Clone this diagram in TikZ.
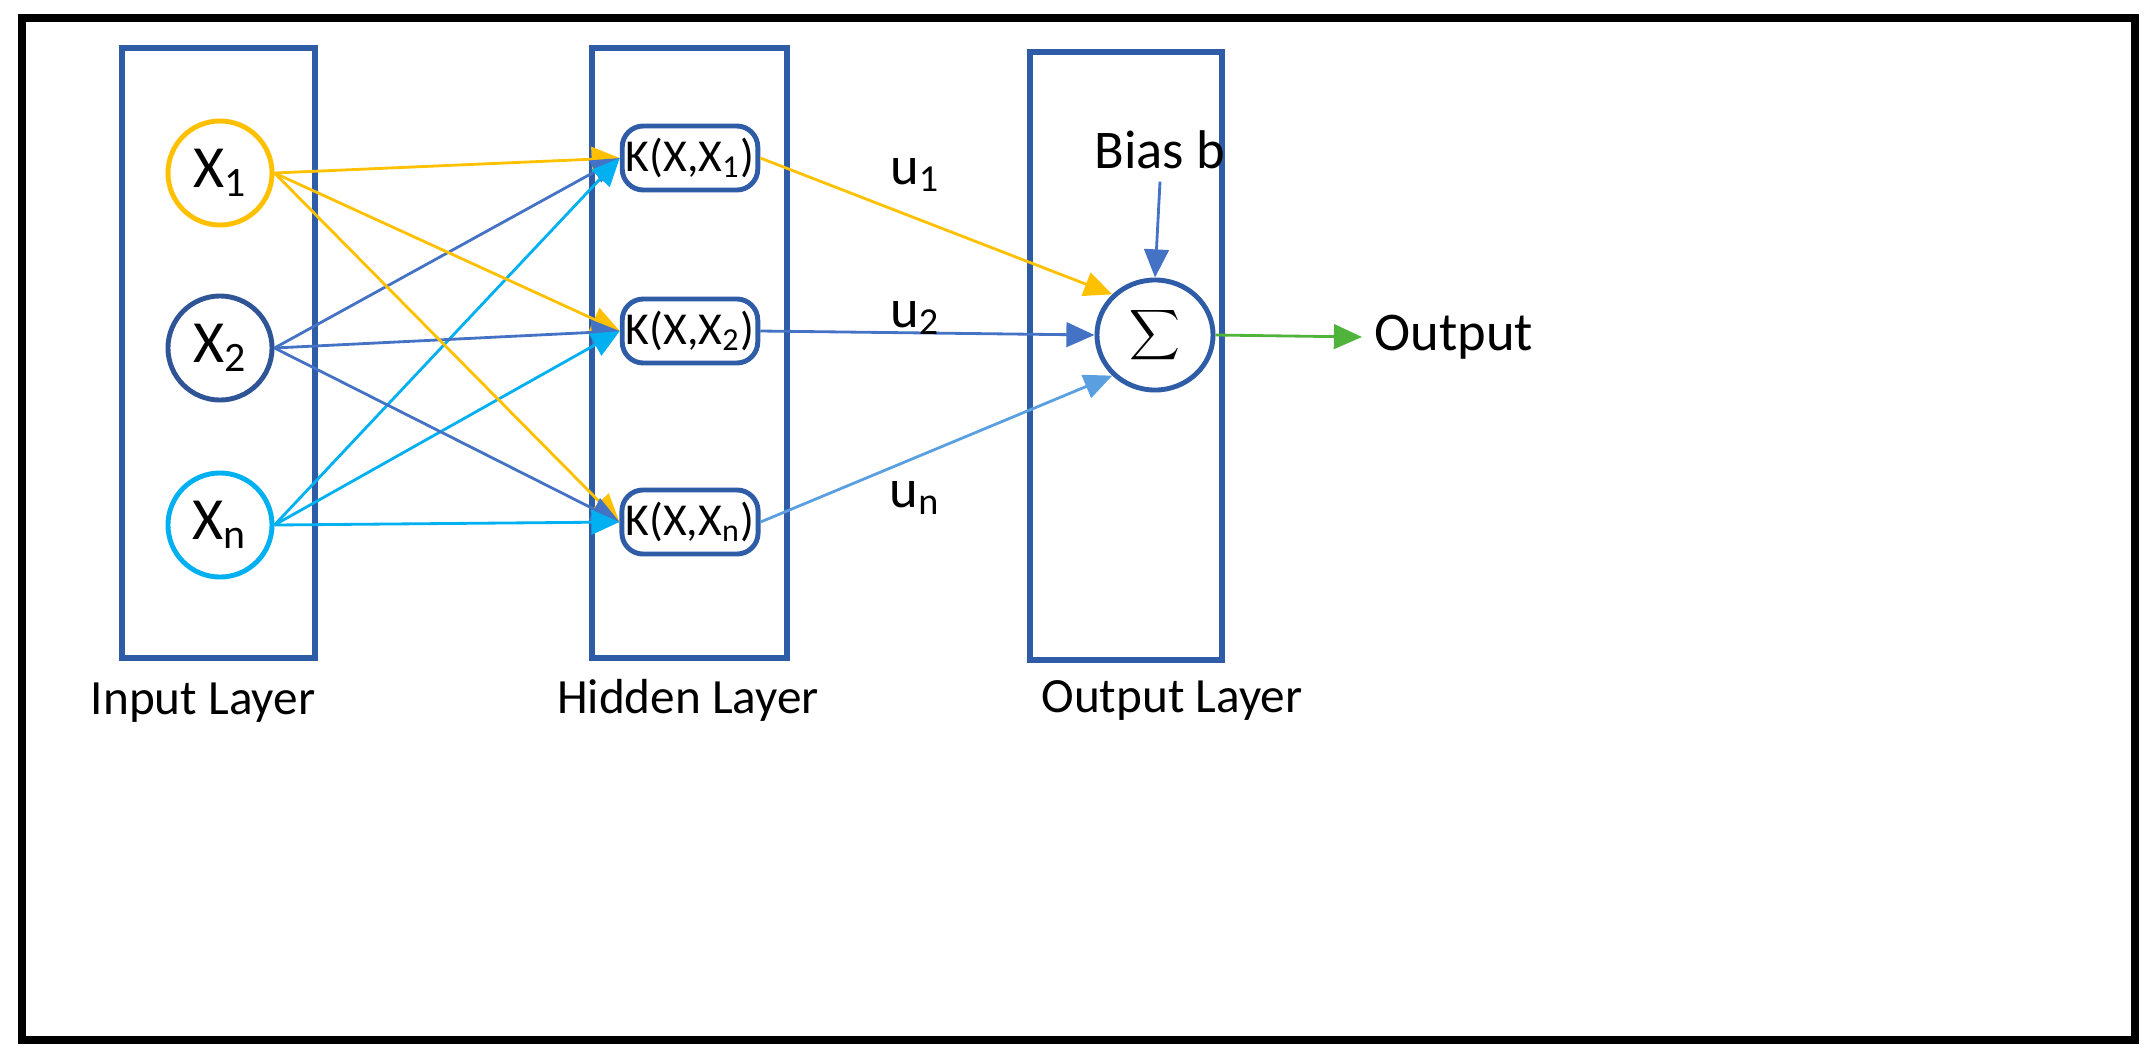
\documentclass[tikz,border=0pt]{standalone}
\usepackage{fontspec}
\setmainfont{Carlito}
\usetikzlibrary{arrows.meta,shapes.geometric}
\definecolor{fr}{RGB}{46,92,166}
\definecolor{yel}{RGB}{255,192,0}
\definecolor{dbl}{RGB}{47,85,151}
\definecolor{cya}{RGB}{0,176,240}
\definecolor{mbl}{RGB}{68,114,196}
\definecolor{lbl}{RGB}{90,160,225}
\definecolor{grn}{RGB}{80,180,60}
\begin{document}
\begin{tikzpicture}[x=0.01cm,y=-0.01cm,
 layer/.style={draw=fr,line width=1.6pt},
 inp/.style={circle,line width=1.4pt,inner sep=0pt,minimum size=1.04cm,font=\fontsize{17}{20}\selectfont},
 kb/.style={draw=fr,line width=1.4pt,rounded corners=6pt,minimum width=1.32cm,minimum height=0.64cm,inner sep=1pt,font=\fontsize{13}{15}\selectfont},
 ar/.style={-{Triangle[length=8pt,width=7pt]},line width=0.8pt},
 lab/.style={font=\fontsize{15.5}{18}\selectfont}]
\useasboundingbox (0,0) rectangle (2155,1057);
\draw[line width=2.4pt] (22,18) rectangle (2135,1040);
\draw[layer] (122,48) rectangle (315,658);
\draw[layer] (592,48) rectangle (787,658);
\draw[layer] (1030,52) rectangle (1222,660);
\node[inp,draw=yel] (x1) at (220,173) {X\textsubscript{1}};
\node[inp,draw=dbl] (x2) at (220,348) {X\textsubscript{2}};
\node[inp,draw=cya] (xn) at (220,525) {X\textsubscript{n}};
\node[kb] (k1) at (690,158) {K(X,X\textsubscript{1})};
\node[kb] (k2) at (690,331) {K(X,X\textsubscript{2})};
\node[kb] (kn) at (690,522) {K(X,X\textsubscript{n})};
\node[draw=fr,line width=1.4pt,ellipse,minimum width=1.16cm,minimum height=1.1cm,inner sep=0pt] (s) at (1155,335) {\fontsize{30}{30}\selectfont$\displaystyle\sum$};
\foreach \k in {k1,k2,kn}{
 \draw[ar,yel] (x1.east) -- (\k.west);
 \draw[ar,mbl] (x2.east) -- (\k.west);
 \draw[ar,cya] (xn.east) -- (\k.west);}
\draw[ar,yel] (k1.east) -- (s.north west);
\draw[ar,mbl] (k2.east) -- (s.west);
\draw[ar,lbl] (kn.east) -- (s.south west);
\node[lab] (bias) at (1160,150) {Bias b};
\draw[ar,mbl] (bias.south) -- (s.north);
\node[lab,anchor=west] (out) at (1362,337) {Output};
\draw[ar,grn] (s.east) -- (out.west);
\node[lab] (u1) at (915,175) {u\textsubscript{1}};
\node[lab] (u2) at (915,318) {u\textsubscript{2}};
\node[lab] (un) at (915,498) {u\textsubscript{n}};
\node[lab,font=\fontsize{14}{17}\selectfont] (l1) at (203,703) {Input Layer};
\node[lab,font=\fontsize{14}{17}\selectfont] (l2) at (688,700) {Hidden Layer};
\node[lab,font=\fontsize{14}{17}\selectfont] (l3) at (1172,700) {Output Layer};
\end{tikzpicture}
\end{document}
